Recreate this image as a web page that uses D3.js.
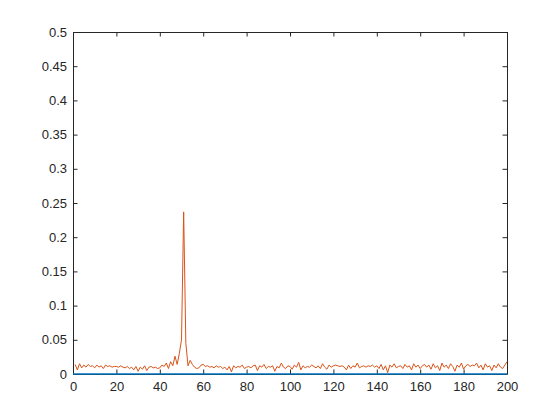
<!DOCTYPE html>
<html lang="en">
<head>
<meta charset="UTF-8">
<title></title>
<script src="https://d3js.org/d3.v7.min.js"></script>
<style>
  body { margin: 0; background: #fff; }
  .tick text { font-family: "Liberation Sans", Arial, sans-serif; font-size: 13px; fill: #262626; }
</style>
</head>
<body>
<script>
// data
var xTicks = [0, 20, 40, 60, 80, 100, 120, 140, 160, 180, 200];
var yTicks = [0, 0.05, 0.1, 0.15, 0.2, 0.25, 0.3, 0.35, 0.4, 0.45, 0.5];

// first series: flat zero line
var baseX = [0, 200];
var baseY = [0, 0];

// second series: spectrum, x = 1..200
var specY = [
  0.014, 0.006, 0.015, 0.009, 0.013, 0.010, 0.014, 0.011, 0.012, 0.009,
  0.013, 0.010, 0.012, 0.008, 0.013, 0.011, 0.012, 0.010, 0.011, 0.011,
  0.010, 0.012, 0.010, 0.009, 0.011, 0.008, 0.010, 0.006, 0.011, 0.004,
  0.010, 0.007, 0.012, 0.005, 0.010, 0.011, 0.009, 0.010, 0.008, 0.009,
  0.013, 0.011, 0.016, 0.008, 0.018, 0.012, 0.026, 0.014, 0.030, 0.050,
  0.237, 0.045, 0.012, 0.020, 0.014, 0.010, 0.008, 0.009, 0.013, 0.014,
  0.011, 0.012, 0.010, 0.011, 0.009, 0.012, 0.010, 0.011, 0.008, 0.010,
  0.006, 0.011, 0.003, 0.012, 0.009, 0.011, 0.010, 0.013, 0.008, 0.010,
  0.011, 0.009, 0.012, 0.013, 0.005, 0.012, 0.010, 0.014, 0.008, 0.011,
  0.010, 0.012, 0.004, 0.011, 0.009, 0.016, 0.010, 0.008, 0.012, 0.011,
  0.007, 0.013, 0.010, 0.017, 0.006, 0.012, 0.009, 0.011, 0.010, 0.013,
  0.011, 0.009, 0.012, 0.008, 0.015, 0.010, 0.007, 0.013, 0.010, 0.012,
  0.013, 0.012, 0.011, 0.012, 0.010, 0.006, 0.013, 0.008, 0.012, 0.010,
  0.016, 0.009, 0.011, 0.012, 0.010, 0.012, 0.011, 0.013, 0.010, 0.012,
  0.008, 0.014, 0.006, 0.012, 0.002, 0.013, 0.010, 0.015, 0.009, 0.011,
  0.012, 0.008, 0.014, 0.010, 0.012, 0.006, 0.015, 0.010, 0.013, 0.008,
  0.012, 0.014, 0.010, 0.013, 0.007, 0.015, 0.009, 0.012, 0.005, 0.016,
  0.010, 0.013, 0.008, 0.015, 0.011, 0.004, 0.013, 0.010, 0.016, 0.007,
  0.012, 0.014, 0.011, 0.013, 0.012, 0.016, 0.009, 0.013, 0.006, 0.015,
  0.010, 0.012, 0.005, 0.013, 0.009, 0.015, 0.010, 0.008, 0.013, 0.018
];

var width = 560, height = 420;
var plotLeft = 73, plotRight = 507, plotTop = 32, plotBottom = 374;

var svg = d3.select("body").append("svg")
    .attr("width", width)
    .attr("height", height);

var x = d3.scaleLinear().domain([0, 200]).range([plotLeft, plotRight]);
var y = d3.scaleLinear().domain([0, 0.5]).range([plotBottom, plotTop]);

var tickLen = 4.5;

// axes with inward ticks, mirrored on top/right (box on)
function styleAxis(g) {
    g.selectAll(".domain").attr("stroke", "#262626");
    g.selectAll(".tick line").attr("stroke", "#262626");
}

svg.append("g")
    .attr("transform", "translate(0," + plotBottom + ")")
    .call(d3.axisBottom(x).tickValues(xTicks).tickSizeInner(-tickLen).tickSizeOuter(0).tickPadding(8))
    .call(styleAxis);

svg.append("g")
    .attr("transform", "translate(" + plotLeft + ",0)")
    .call(d3.axisLeft(y).tickValues(yTicks).tickFormat(function(d){ return d3.format("~g")(d); })
          .tickSizeInner(-tickLen).tickSizeOuter(0).tickPadding(6))
    .call(styleAxis);

svg.append("g")
    .attr("transform", "translate(0," + plotTop + ")")
    .call(d3.axisTop(x).tickValues(xTicks).tickSizeInner(-tickLen).tickSizeOuter(0).tickFormat(""))
    .call(styleAxis);

svg.append("g")
    .attr("transform", "translate(" + plotRight + ",0)")
    .call(d3.axisRight(y).tickValues(yTicks).tickSizeInner(-tickLen).tickSizeOuter(0).tickFormat(""))
    .call(styleAxis);

var line = d3.line()
    .x(function(d){ return x(d[0]); })
    .y(function(d){ return y(d[1]); });

// orange spectrum
svg.append("path")
    .datum(specY.map(function(v, i){ return [i + 1, v]; }))
    .attr("fill", "none")
    .attr("stroke", "#D95319")
    .attr("stroke-width", 1)
    .attr("d", line);

// blue zero line on top of the bottom axis
svg.append("path")
    .datum(baseX.map(function(v, i){ return [v, baseY[i]]; }))
    .attr("fill", "none")
    .attr("stroke", "#0072BD")
    .attr("stroke-width", 1.5)
    .attr("d", line);
</script>
</body>
</html>
